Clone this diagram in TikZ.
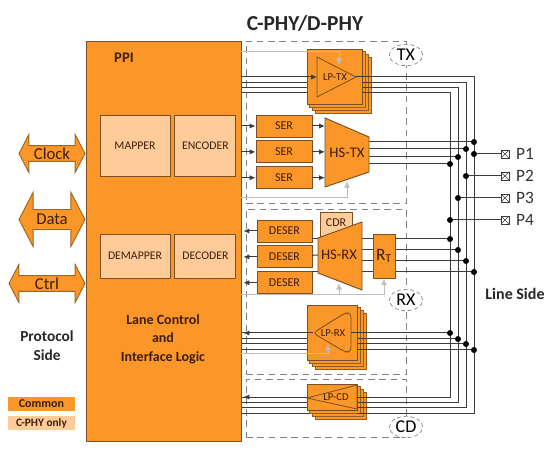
\documentclass[tikz,border=0pt]{standalone}
\usepackage{fontspec}
\setmainfont{Carlito}
\usepackage{xcolor}
\usepackage{tikz}
\usetikzlibrary{arrows.meta,positioning,calc,shapes.geometric,shapes.arrows,backgrounds}
\definecolor{naranja}{RGB}{251,150,40}
\definecolor{claro}{RGB}{255,204,153}
\definecolor{marron}{RGB}{120,80,35}
\definecolor{tinta}{RGB}{60,30,12}
\definecolor{cable}{RGB}{60,60,60}
\definecolor{gris}{RGB}{190,190,190}
\definecolor{raya}{RGB}{130,130,130}

\begin{document}
\begin{tikzpicture}[
x=.75pt,y=-.75pt,
size/.style 2 args={minimum width=#1*.75pt,minimum height=#2*.75pt,inner sep=0pt},
blk/.style={draw=marron,line width=.7pt,fill=naranja,text=tinta,font=\fontsize{9}{10}\selectfont},
soft/.style={draw=marron,line width=.7pt,fill=claro,text=tinta,font=\fontsize{8.8}{10}\selectfont},
layer/.style={draw=marron!80!naranja,line width=.5pt,fill=naranja},
tri/.style={draw=marron,line width=.6pt},
wire/.style={draw=cable,line width=.75pt},
arr/.style={wire,-{Latex[length=4.5pt,width=4pt]}},
ctl/.style={draw=gris,line width=.75pt,-{Latex[length=5pt,width=4.5pt]}},
dot/.style={circle,fill=black,inner sep=0pt,minimum size=4.5pt},
pad/.style={draw=cable,line width=.5pt,inner sep=0pt,minimum size=6pt,
  path picture={\draw[cable,line width=.35pt] (path picture bounding box.north west) -- (path picture bounding box.south east) (path picture bounding box.north east) -- (path picture bounding box.south west);}},
dashbox/.style={draw=raya,dashed,dash pattern=on 5pt off 3.5pt,line width=.7pt},
tag/.style={ellipse,draw=raya,dashed,dash pattern=on 3pt off 2pt,line width=.5pt,fill=white,inner sep=0pt,minimum width=25pt,minimum height=16pt,font=\fontsize{13.5}{13.5}\selectfont},
dbl/.style={double arrow,draw=marron!70!naranja,line width=.7pt,fill=naranja,inner sep=0pt,double arrow tip angle=125,text=tinta,font=\fontsize{12.5}{13}\selectfont},
txt/.style={font=\fontsize{#1}{#1}\selectfont\bfseries,text=black!85,align=center}
]
\useasboundingbox (0,0) rectangle (554,449);

\node[txt=16] (title) at (305,24) {C-PHY/D-PHY};

\node[blk,size={155}{400},fill=naranja] (ppi) at (163.5,241) {};
\node[txt=11,text=tinta] (ppitxt) at (124,58) {PPI};
\node[soft,size={70}{61}] (mapper) at (135,145.5) {MAPPER};
\node[soft,size={61}{61},right=3pt of mapper] (encoder) {ENCODER};
\node[soft,size={70}{44}] (demapper) at (135,256) {DEMAPPER};
\node[soft,size={61}{44},right=3pt of demapper] (decoder) {DECODER};
\node[txt=10.5,text=tinta,text depth=0pt] (lane) at (163,338) {Lane Control\\[3.2pt]and\\[3.2pt]Interface Logic};

\node[dbl,size={38}{66},double arrow head extend=6.75pt] (clock) at (52,153.5) {Clock};
\node[dbl,size={54}{66},double arrow head extend=7.5pt] (data) at (52,219.5) {Data};
\node[dbl,size={38}{76},double arrow head extend=6.75pt] (ctrl) at (47,283.5) {Ctrl};

\node[txt=11.5] (proto) at (47,346) {Protocol\\[3pt]Side};
\node[fill=naranja,size={67}{14},font=\fontsize{9}{9}\selectfont\bfseries,text=tinta] (common) at (41.5,404) {Common};
\node[fill=claro,size={67}{14},font=\fontsize{8.5}{9}\selectfont\bfseries,text=tinta] (conly) at (41.5,423) {C-PHY only};

\node[blk,size={56}{22}] (ser1) at (284,126) {SER};
\node[blk,size={56}{22},below=2.2pt of ser1] (ser2) {SER};
\node[blk,size={56}{22},below=2.2pt of ser2] (ser3) {SER};
\node[blk,size={55}{22}] (deser1) at (284.5,231) {DESER};
\node[blk,size={55}{22},below=2.2pt of deser1] (deser2) {DESER};
\node[blk,size={55}{22},below=2.2pt of deser2] (deser3) {DESER};

\node[soft,size={32}{26},font=\fontsize{9}{9}\selectfont,anchor=north] (cdr) at (336,212) {};
\node[font=\fontsize{9}{9}\selectfont,text=tinta] (cdrtxt) at (336,222.5) {CDR};
\draw[blk] (325,118) -- (369,137) -- (369,172) -- (325,187) -- cycle;
\node[font=\fontsize{11}{11}\selectfont,text=tinta] (hstx) at (347,153) {HS-TX};
\draw[blk] (318,238) -- (362,222) -- (362,290) -- (318,273) -- cycle;
\node[font=\fontsize{11}{11}\selectfont,text=tinta] (hsrx) at (339,255) {HS-RX};
\coordinate (hstxout) at (369,153);
\coordinate (hsrxout) at (362,255);
\node[blk,size={22}{44},font=\fontsize{13}{13}\selectfont] (rt) at (384,256) {R\textsubscript{T}};

\node[blk,size={55}{55}] (lptx) at (334.5,76.5) {};
\node[blk,size={50}{55}] (lprx) at (332,332.5) {};
\node[blk,size={50}{26}] (lpcd) at (332,397) {};
\draw[tri] (317,57) -- (356,77) -- (317,97) -- cycle;
\draw[tri,rounded corners=3pt] (313,333) -- (345,313) -- (351,313) -- (351,352) -- (345,352) -- cycle;
\draw[tri] (307,398) -- (357,385) -- (357,409) -- cycle;
\node[font=\fontsize{8}{8}\selectfont,text=tinta] (lptxtxt) at (335,77) {LP-TX};
\node[font=\fontsize{8}{8}\selectfont,text=tinta] (lprxtxt) at (333,333) {LP-RX};
\node[font=\fontsize{8}{8}\selectfont,text=tinta] (lpcdtxt) at (336,397) {LP-CD};

\foreach \i/\vx/\y in {1/474/154,2/466/176,3/458/198,4/450/220} {
  \node[dot] (dp\i) at (\vx,\y) {};
  \node[pad] (p\i) at (505,\y) {};
  \node[font=\fontsize{13}{13}\selectfont,text=black!80,right=1.5pt of p\i] (p\i txt) {P\i};
}
\foreach \i/\vx/\y in {1/474/142,2/466/149,3/458/157,4/450/164} \node[dot] (dh\i) at (\vx,\y) {};
\foreach \i/\vx/\y in {1/450/239,2/458/250,3/466/261,4/474/272} \node[dot] (dr\i) at (\vx,\y) {};
\foreach \i/\vx/\y in {1/450/333,2/458/339,3/466/344,4/474/350} \node[dot] (dl\i) at (\vx,\y) {};

\node[txt=12] (line) at (515,294) {Line Side};

\begin{pgfonlayer}{background}
\node[dashbox,size={160}{162}] (txbox) at (326,122) {};
\node[dashbox,size={160}{165}] (rxbox) at (326,291.5) {};
\node[dashbox,size={160}{58}] (cdbox) at (326,408) {};
\foreach \vx/\ta/\bo in {474/77/413,466/83/407,458/88/402,450/93/397}
  \draw[wire] (ppi.east |- 0,\ta) -| (\vx,\bo) -- (ppi.east |- 0,\bo);
\foreach \i in {1,...,4} {
  \draw[wire] (dp\i) -- (p\i);
  \draw[wire] (hstxout |- dh\i) -- (dh\i);
  \draw[wire] (hsrxout |- dr\i) -- (dr\i);
  \draw[wire] (ppi.east |- dl\i) -- (dl\i);
}
\foreach \n in {lptx,lprx,lpcd}
  \foreach \d in {9,6,3}
    \draw[layer] ([shift={(\d,\d)}]\n.north west) rectangle ([shift={(\d,\d)}]\n.south east);
\end{pgfonlayer}

\node[tag] (txtag) at (406,55) {TX};
\node[tag] (rxtag) at (406,300) {RX};
\node[tag] (cdtag) at (406,427) {CD};

\foreach \i in {1,2,3} {
  \draw[arr] (ppi.east |- ser\i) -- (ser\i);
  \draw[arr] (ser\i) -- (ser\i -| 325,0);
  \draw[arr,shorten >=1.5pt] (deser\i) -- (ppi.east |- deser\i);
}
\draw[wire] (deser1.east |- 0,239) -- (318,239);
\draw[wire] (deser2) -- (hsrx.west -| 318,0);
\draw[wire] (deser3.east |- 0,272) -- (318,272);

\coordinate (lptxin) at (317,77);
\coordinate (lprxin) at (313,333);
\coordinate (lpcdin) at (307,398);
\draw[arr] (ppi.east |- lptxin) -- (lptxin);
\draw[wire] (lptxin -| 356,0) -- ++(10,0);
\draw[wire] (lprxin) -- (lprx.west |- lprxin);
\draw[arr,shorten >=1.5pt] (lprx.west |- lprxin) -- (ppi.east |- lprxin);
\draw[arr,shorten >=1.5pt] (lpcd.west |- 0,397) -- (ppi.east |- 0,397);
\foreach \n/\a/\b/\c/\d in {lptx/77/83/88/93,lprx/333/339/344/350,lpcd/397/402/407/413}
  \foreach \y in {\a,\b,\c,\d}
    \draw[wire] (\n.east |- 0,\y) -- ++(10,0);
\draw[wire] (351,333) -- (lprx.east |- 0,333);

\coordinate (lptxen) at (339,65);
\coordinate (hstxen) at (347,181);
\coordinate (hsrxen) at (339,283);
\coordinate (lprxen) at (328,344);
\draw[ctl] (ppi.east |- 0,52) -| (lptxen);
\draw[ctl] (ppi.east |- 0,198) -| (hstxen);
\draw[ctl] (ppi.east |- 0,295) -| (rt.south);
\draw[ctl] (hsrxen |- 0,295) -- (hsrxen);
\draw[ctl] (ppi.east |- 0,354) -| (lprxen);
\end{tikzpicture}
\end{document}
